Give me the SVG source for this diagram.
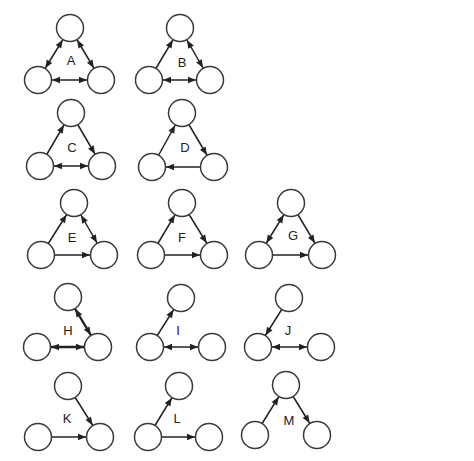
<svg xmlns="http://www.w3.org/2000/svg" width="474" height="461" viewBox="0 0 474 461">
<style>
.n{fill:#fff;stroke:#3a3a3a;stroke-width:1.5}
.c{stroke:#222;stroke-width:1.5;fill:none}
.u{marker-end:url(#ah)}
.b{marker-start:url(#ah);marker-end:url(#ah)}
.t{stroke-width:2.4}
.lb{font-family:"Liberation Sans",Arial,sans-serif;font-size:13px;fill:#222;text-anchor:middle}
</style>
<defs>
<marker id="ah" markerUnits="userSpaceOnUse" markerWidth="9" markerHeight="7" refX="22" refY="3.25" orient="auto-start-reverse" overflow="visible">
<path d="M0,0 L8,3.25 L0,6.5 z" fill="#222"/>
</marker>
</defs>
<rect width="474" height="461" fill="#fff"/>
<g id="connectors">
<line class="c b" x1="70" y1="28" x2="38" y2="80"/>
<line class="c b" x1="70" y1="28" x2="101" y2="80"/>
<line class="c b" x1="38" y1="80" x2="101" y2="80"/>
<line class="c u" x1="149" y1="80" x2="180" y2="28"/>
<line class="c b" x1="180" y1="28" x2="210" y2="80"/>
<line class="c b" x1="149" y1="80" x2="210" y2="80"/>
<line class="c u" x1="40" y1="166" x2="71" y2="113"/>
<line class="c u" x1="71" y1="113" x2="102" y2="166"/>
<line class="c b" x1="40" y1="166" x2="102" y2="166"/>
<line class="c u" x1="152" y1="167" x2="182" y2="113"/>
<line class="c u" x1="182" y1="113" x2="214" y2="167"/>
<line class="c u" x1="214" y1="167" x2="152" y2="167"/>
<line class="c u" x1="41" y1="255" x2="74" y2="203"/>
<line class="c b" x1="74" y1="203" x2="104" y2="255"/>
<line class="c u" x1="41" y1="255" x2="104" y2="255"/>
<line class="c u" x1="151" y1="255" x2="182" y2="203"/>
<line class="c u" x1="182" y1="203" x2="214" y2="255"/>
<line class="c u" x1="151" y1="255" x2="214" y2="255"/>
<line class="c b" x1="291" y1="203" x2="259" y2="255"/>
<line class="c u" x1="291" y1="203" x2="322" y2="255"/>
<line class="c u" x1="259" y1="255" x2="322" y2="255"/>
<line class="c b t" x1="68" y1="297" x2="98" y2="347"/>
<line class="c b t" x1="37" y1="347" x2="98" y2="347"/>
<line class="c u" x1="150" y1="347" x2="181" y2="298"/>
<line class="c b" x1="150" y1="347" x2="212" y2="347"/>
<line class="c u" x1="289" y1="298" x2="258" y2="347"/>
<line class="c b" x1="258" y1="347" x2="321" y2="347"/>
<line class="c u" x1="68" y1="386" x2="100" y2="437"/>
<line class="c u" x1="38" y1="437" x2="100" y2="437"/>
<line class="c u" x1="148" y1="437" x2="179" y2="386"/>
<line class="c u" x1="148" y1="437" x2="209" y2="437"/>
<line class="c u" x1="255" y1="435" x2="286" y2="385"/>
<line class="c u" x1="286" y1="385" x2="317" y2="435"/>
</g>
<g id="A"><g id="A-top"><circle class="n" cx="70" cy="28" r="13.5"/></g><g id="A-left"><circle class="n" cx="38" cy="80" r="13.5"/></g><g id="A-right"><circle class="n" cx="101" cy="80" r="13.5"/></g><text class="lb" x="71" y="65">A</text></g>
<g id="B"><g id="B-top"><circle class="n" cx="180" cy="28" r="13.5"/></g><g id="B-left"><circle class="n" cx="149" cy="80" r="13.5"/></g><g id="B-right"><circle class="n" cx="210" cy="80" r="13.5"/></g><text class="lb" x="182" y="67">B</text></g>
<g id="C"><g id="C-top"><circle class="n" cx="71" cy="113" r="13.5"/></g><g id="C-left"><circle class="n" cx="40" cy="166" r="13.5"/></g><g id="C-right"><circle class="n" cx="102" cy="166" r="13.5"/></g><text class="lb" x="72" y="152">C</text></g>
<g id="D"><g id="D-top"><circle class="n" cx="182" cy="113" r="13.5"/></g><g id="D-left"><circle class="n" cx="152" cy="167" r="13.5"/></g><g id="D-right"><circle class="n" cx="214" cy="167" r="13.5"/></g><text class="lb" x="185" y="152">D</text></g>
<g id="E"><g id="E-top"><circle class="n" cx="74" cy="203" r="13.5"/></g><g id="E-left"><circle class="n" cx="41" cy="255" r="13.5"/></g><g id="E-right"><circle class="n" cx="104" cy="255" r="13.5"/></g><text class="lb" x="72" y="242">E</text></g>
<g id="F"><g id="F-top"><circle class="n" cx="182" cy="203" r="13.5"/></g><g id="F-left"><circle class="n" cx="151" cy="255" r="13.5"/></g><g id="F-right"><circle class="n" cx="214" cy="255" r="13.5"/></g><text class="lb" x="182" y="242">F</text></g>
<g id="G"><g id="G-top"><circle class="n" cx="291" cy="203" r="13.5"/></g><g id="G-left"><circle class="n" cx="259" cy="255" r="13.5"/></g><g id="G-right"><circle class="n" cx="322" cy="255" r="13.5"/></g><text class="lb" x="293" y="240">G</text></g>
<g id="H"><g id="H-top"><circle class="n" cx="68" cy="297" r="13.5"/></g><g id="H-left"><circle class="n" cx="37" cy="347" r="13.5"/></g><g id="H-right"><circle class="n" cx="98" cy="347" r="13.5"/></g><text class="lb" x="68" y="335">H</text></g>
<g id="I"><g id="I-top"><circle class="n" cx="181" cy="298" r="13.5"/></g><g id="I-left"><circle class="n" cx="150" cy="347" r="13.5"/></g><g id="I-right"><circle class="n" cx="212" cy="347" r="13.5"/></g><text class="lb" x="178" y="335">I</text></g>
<g id="J"><g id="J-top"><circle class="n" cx="289" cy="298" r="13.5"/></g><g id="J-left"><circle class="n" cx="258" cy="347" r="13.5"/></g><g id="J-right"><circle class="n" cx="321" cy="347" r="13.5"/></g><text class="lb" x="288" y="335">J</text></g>
<g id="K"><g id="K-top"><circle class="n" cx="68" cy="386" r="13.5"/></g><g id="K-left"><circle class="n" cx="38" cy="437" r="13.5"/></g><g id="K-right"><circle class="n" cx="100" cy="437" r="13.5"/></g><text class="lb" x="67" y="423">K</text></g>
<g id="L"><g id="L-top"><circle class="n" cx="179" cy="386" r="13.5"/></g><g id="L-left"><circle class="n" cx="148" cy="437" r="13.5"/></g><g id="L-right"><circle class="n" cx="209" cy="437" r="13.5"/></g><text class="lb" x="177" y="423">L</text></g>
<g id="M"><g id="M-top"><circle class="n" cx="286" cy="385" r="13.5"/></g><g id="M-left"><circle class="n" cx="255" cy="435" r="13.5"/></g><g id="M-right"><circle class="n" cx="317" cy="435" r="13.5"/></g><text class="lb" x="289" y="425">M</text></g>
</svg>
